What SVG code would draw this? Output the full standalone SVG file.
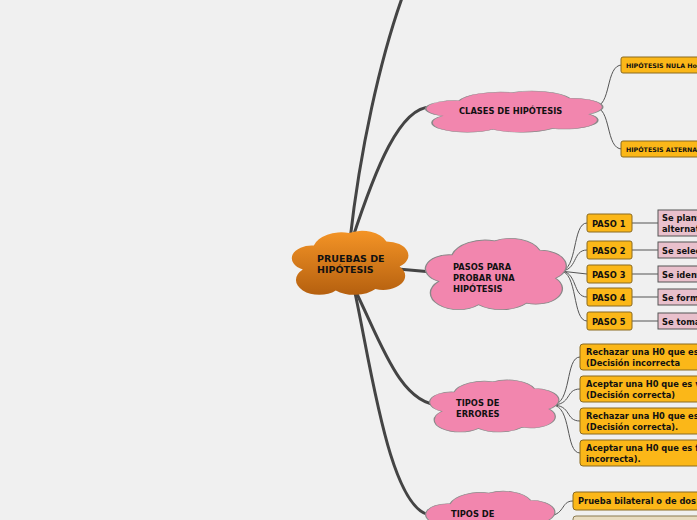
<svg xmlns="http://www.w3.org/2000/svg" width="697" height="520" viewBox="0 0 697 520">
<defs>
<linearGradient id="og" x1="0" y1="0" x2="0" y2="1"><stop offset="0" stop-color="#f49426"/><stop offset="1" stop-color="#b5600f"/></linearGradient>
<path id="cloud" d="M8,62 A18,18 0 0 1 18,28 A26,26 0 0 1 50,10 A24,24 0 0 1 84,22 A20,20 0 0 1 96,58 A20,20 0 0 1 74,90 A26,26 0 0 1 38,92 A20,20 0 0 1 8,62 Z"/>
</defs>
<style>
text{font-family:"DejaVu Sans","Liberation Sans",sans-serif;font-weight:bold;fill:#111}
.ob{fill:#fbb718;stroke:#8a6a20;stroke-width:1}
.pk{fill:#e9c0cc;stroke:#555;stroke-width:1}
.cl{fill:#f286ae;stroke:#888;stroke-width:1}
.main{fill:none;stroke:#444;stroke-width:3;stroke-linecap:round}
.sub{fill:none;stroke:#555;stroke-width:1}
.t9{font-size:8.3px}.t7{font-size:6.3px}
</style>
<rect width="697" height="520" fill="#f0f0f0"/>
<g id="connectors">
<path class="main" d="M350,240 C360,150 380,60 402,-2"/>
<path class="main" d="M352,240 C375,170 400,105 432,107"/>
<path class="main" d="M398,269 C410,270 420,271 432,272"/>
<path class="main" d="M355,290 C380,340 400,405 440,405"/>
<path class="main" d="M355,293 C370,360 390,515 432,515"/>
<path class="sub" d="M594,107 C612,107 605,65 622,65"/>
<path class="sub" d="M594,107 C612,107 605,149 622,149"/>
<path class="sub" d="M560,271 C578,271 572,223 587,223"/>
<path class="sub" d="M560,271 C578,271 572,250 587,250"/>
<path class="sub" d="M560,271 L587,274"/>
<path class="sub" d="M560,271 C578,271 572,297 587,297"/>
<path class="sub" d="M560,271 C578,271 572,321 587,321"/>
<path class="sub" d="M632,223 H658 M632,250 H658 M632,274 H658 M632,297 H658 M632,321 H658"/>
<path class="sub" d="M552,405 C572,405 565,357 580,357"/>
<path class="sub" d="M552,405 C572,405 565,389 580,389"/>
<path class="sub" d="M552,405 C572,405 565,421 580,421"/>
<path class="sub" d="M552,405 C572,405 565,453 580,453"/>
<path class="sub" d="M546,516 C566,516 560,501 573,501"/>
</g>
<g id="n-root"><use href="#cloud" transform="translate(294,226) scale(1.1,0.7)" fill="url(#og)"/><text x="317" y="262" font-size="9.5" font-family="Liberation Sans">PRUEBAS DE</text><text x="317" y="273" font-size="9.5" font-family="Liberation Sans">HIPÓTESIS</text></g>
<g id="n-clases"><use href="#cloud" class="cl" transform="translate(429,88) scale(1.67,0.45)"/><text x="459" y="114" class="t9">CLASES DE HIPÓTESIS</text></g>
<g id="n-nula"><rect class="ob" x="621" y="57" width="90" height="16" rx="2"/><text x="626" y="68" class="t7">HIPÓTESIS NULA  Ho</text></g>
<g id="n-alt"><rect class="ob" x="621" y="141" width="90" height="16" rx="2"/><text x="626" y="152" class="t7">HIPÓTESIS ALTERNATIVA</text></g>
<g id="n-pasos"><use href="#cloud" class="cl" transform="translate(428,233) scale(1.33,0.78)"/><text x="453" y="270" class="t9">PASOS PARA</text><text x="453" y="281" class="t9">PROBAR UNA</text><text x="453" y="292" class="t9">HIPÓTESIS</text></g>
<g id="n-p1"><rect class="ob" x="587" y="214" width="45" height="18" rx="2"/><text x="592" y="227" class="t9">PASO 1</text><rect class="pk" x="658" y="210" width="50" height="26"/><text x="662" y="221" class="t9">Se plant</text><text x="662" y="232" class="t9">alternat</text></g>
<g id="n-p2"><rect class="ob" x="587" y="241" width="45" height="18" rx="2"/><text x="592" y="254" class="t9">PASO 2</text><rect class="pk" x="658" y="242" width="50" height="16"/><text x="662" y="254" class="t9">Se selec</text></g>
<g id="n-p3"><rect class="ob" x="587" y="265" width="45" height="18" rx="2"/><text x="592" y="278" class="t9">PASO 3</text><rect class="pk" x="658" y="266" width="50" height="16"/><text x="662" y="278" class="t9">Se ident</text></g>
<g id="n-p4"><rect class="ob" x="587" y="288" width="45" height="18" rx="2"/><text x="592" y="301" class="t9">PASO 4</text><rect class="pk" x="658" y="289" width="50" height="16"/><text x="662" y="301" class="t9">Se form</text></g>
<g id="n-p5"><rect class="ob" x="587" y="312" width="45" height="18" rx="2"/><text x="592" y="325" class="t9">PASO 5</text><rect class="pk" x="658" y="313" width="50" height="16"/><text x="662" y="325" class="t9">Se toma</text></g>
<g id="n-errores"><use href="#cloud" class="cl" transform="translate(432,376) scale(1.22,0.57)"/><text x="456" y="406" class="t9">TIPOS DE</text><text x="456" y="417" class="t9">ERRORES</text></g>
<g id="n-e1"><rect class="ob" x="580" y="344" width="130" height="26" rx="3"/><text x="586" y="355" class="t9">Rechazar una H0 que es v</text><text x="586" y="366" class="t9">(Decisión incorrecta</text></g>
<g id="n-e2"><rect class="ob" x="580" y="376" width="130" height="26" rx="3"/><text x="586" y="387" class="t9">Aceptar una H0 que es ve</text><text x="586" y="398" class="t9">(Decisión correcta)</text></g>
<g id="n-e3"><rect class="ob" x="580" y="408" width="130" height="26" rx="3"/><text x="586" y="419" class="t9">Rechazar una H0 que es f</text><text x="586" y="430" class="t9">(Decisión correcta).</text></g>
<g id="n-e4"><rect class="ob" x="580" y="440" width="130" height="26" rx="3"/><text x="586" y="451" class="t9">Aceptar una H0 que es fa</text><text x="586" y="462" class="t9">incorrecta).</text></g>
<g id="n-tipos"><use href="#cloud" class="cl" transform="translate(428,487) scale(1.22,0.6)"/><text x="451" y="517" class="t9">TIPOS DE</text></g>
<g id="n-bil"><rect class="ob" x="573" y="492" width="140" height="18" rx="3"/><text x="578" y="504" class="t9">Prueba bilateral o de dos e</text></g>
<g id="n-b2"><rect x="573" y="516" width="140" height="10" rx="3" fill="#e8dcc0" stroke="#8a7a50"/></g>
</svg>
